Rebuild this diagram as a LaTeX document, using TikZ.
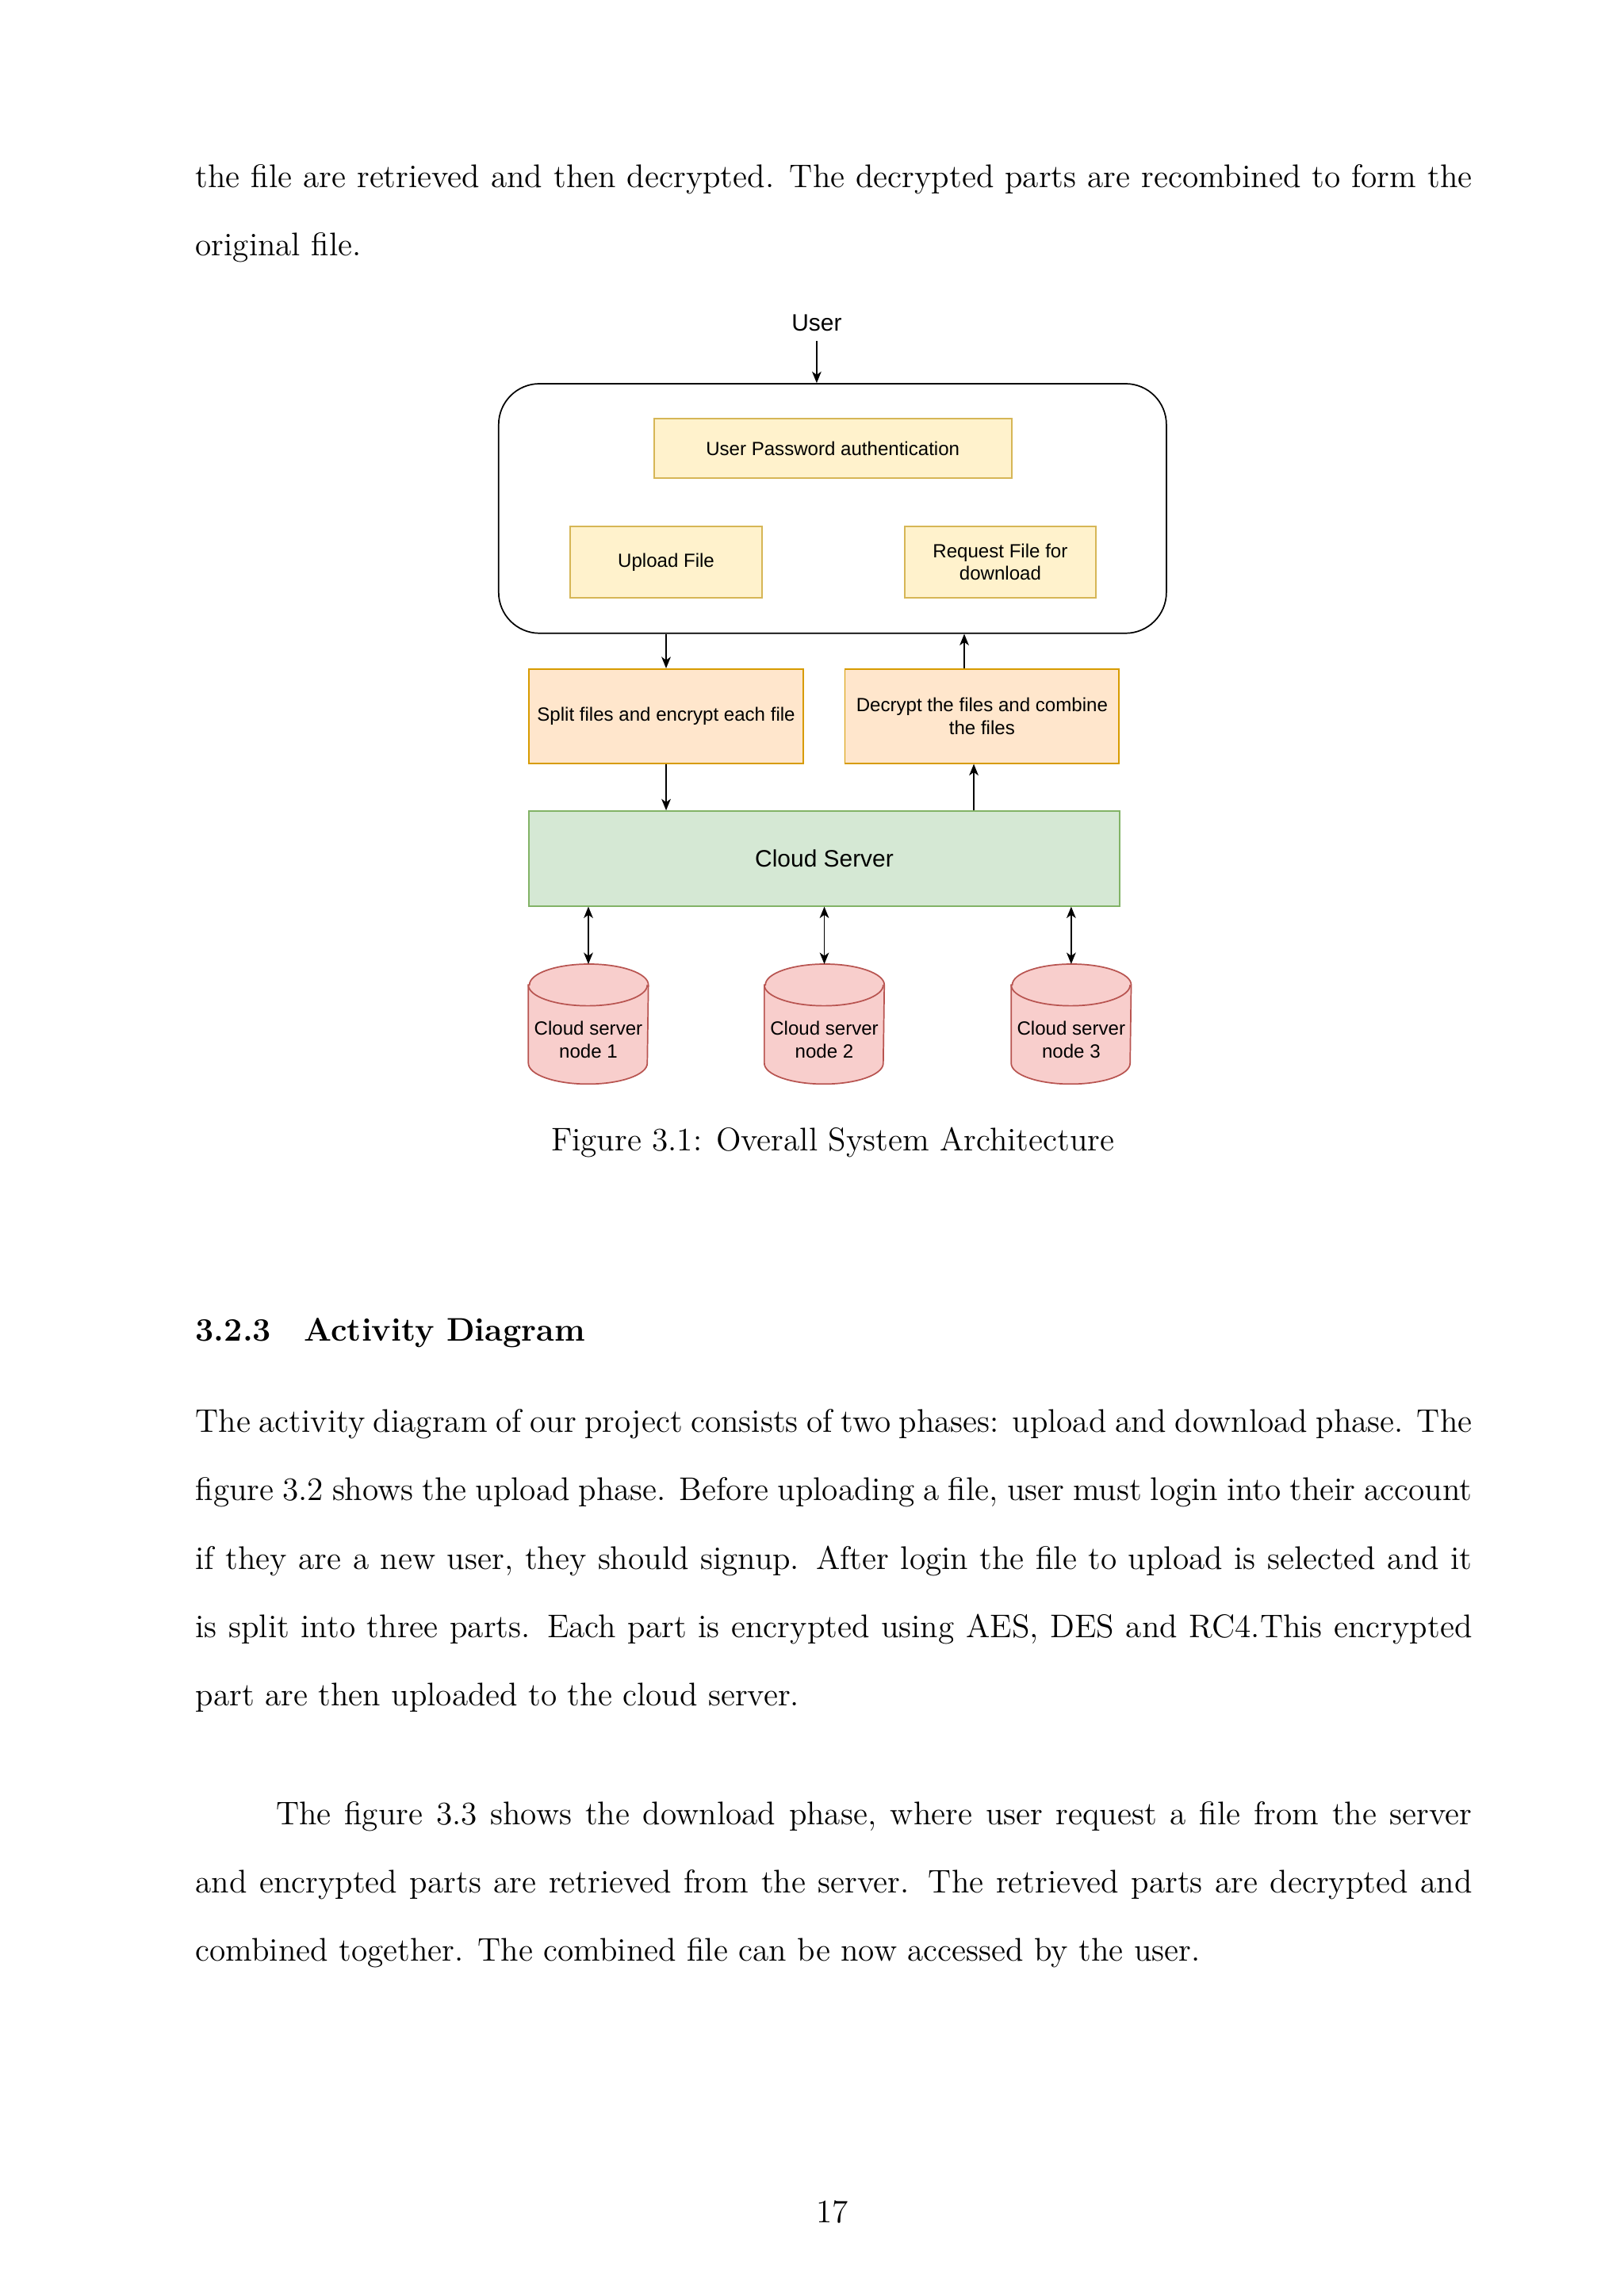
\documentclass[tikz,border=0pt]{standalone}
\usepackage{fontspec}
\usepackage{tikz}
\usetikzlibrary{arrows.meta}
\newfontfamily\diagramfont{Liberation Sans}
\definecolor{yellowfill}{HTML}{FFF2CC}
\definecolor{yellowline}{HTML}{D6B656}
\definecolor{orangefill}{HTML}{FFE6CC}
\definecolor{orangeline}{HTML}{D79B00}
\definecolor{greenfill}{HTML}{D5E8D4}
\definecolor{greenline}{HTML}{82B366}
\definecolor{redfill}{HTML}{F8CECC}
\definecolor{redline}{HTML}{B85450}
\newcommand{\fullline}[1]{\makebox[468pt][s]{#1}}
\tikzstyle{body text}=[anchor=base west, inner sep=0pt, font=\fontsize{12}{25.1}\selectfont]
\tikzstyle{centred text}=[anchor=base, inner sep=0pt, font=\fontsize{12}{25.1}\selectfont]
\tikzstyle{small label}=[font=\diagramfont\fontsize{7}{8.3}\selectfont, align=center, inner sep=1pt]
\tikzstyle{big label}=[font=\diagramfont\fontsize{8.7}{10.4}\selectfont, align=center, inner sep=2pt]
\tikzstyle{yellow box}=[small label, rectangle, draw=yellowline, fill=yellowfill, line width=0.5pt]
\tikzstyle{orange box}=[small label, rectangle, draw=orangeline, fill=orangefill, line width=0.5pt, minimum width=100.5pt, minimum height=34.6pt]
\tikzstyle{green box}=[big label, rectangle, draw=greenline, fill=greenfill, line width=0.5pt, minimum width=216.5pt, minimum height=34.8pt]
\tikzstyle{outer frame}=[draw, rectangle, rounded corners=15pt, line width=0.5pt, minimum width=244.8pt, minimum height=91.5pt]
\tikzstyle{cylinder spot}=[rectangle, inner sep=0pt, minimum width=43.6pt, minimum height=43.6pt]
\tikzstyle{cylinder body}=[draw=redline, fill=redfill, line width=0.5pt]
\tikzstyle{link}=[draw, line width=0.45pt, -{Stealth[length=4.2pt,width=3.4pt,inset=1.2pt]}]
\tikzstyle{both link}=[draw, line width=0.45pt, {Stealth[length=4.2pt,width=3.4pt,inset=1.2pt]}-{Stealth[length=4.2pt,width=3.4pt,inset=1.2pt]}]
\begin{document}
\begin{tikzpicture}[x=1pt, y=-1pt]
		\useasboundingbox (0,0) rectangle (595.28,841.89);
		\fill[white] (0,0) rectangle (595.28,841.89);
		
		% Text above the figure
		\node[body text] (top1) at (71.5,68.9) {\fullline{the file are retrieved and then decrypted. The decrypted parts are recombined to form the}};
		\node[body text] (top2) at (71.5,93.9) {original file.};
		
		% The user and the client frame
		\node[big label] (user) at (299.4,118.4) {User};
		\node[outer frame] (frame) at (305.2,186.45) {};
		\foreach \pos/\boxw/\boxh/\label/\name in {
			{(305.3,164.5)/131.1pt/21.8pt/auth/User Password authentication},
			{(244.2,206.1)/70.3pt/26.2pt/upload/Upload File},
			{(366.7,206.1)/70pt/26.2pt/request/Request File for\\download}}
		\node[yellow box, minimum width=\boxw, minimum height=\boxh] (\label) at \pos {\name};
		
		% Split / decrypt steps and the server
		\foreach \pos/\label/\name in {
			{(244.2,262.6)/split/Split files and encrypt each file},
			{(360.0,262.6)/decrypt/Decrypt the files and combine\\the files}}
		\node[orange box] (\label) at \pos {\name};
		\node[green box] (cloud) at (302.2,314.8) {Cloud Server};
		
		% Storage nodes
		\foreach \x/\n in {215.7/1, 302.2/2, 392.7/3}{
			\node[cylinder spot] (cyl\n) at (\x,375.5) {};
			\path[cylinder body] ([yshift=-7.65pt]cyl\n.north west) -- ([yshift=7.65pt]cyl\n.south west)
				arc[start angle=180, end angle=360, x radius=21.8pt, y radius=7.65pt]
				-- ([yshift=-7.65pt]cyl\n.north east)
				arc[start angle=0, end angle=180, x radius=21.8pt, y radius=7.65pt] -- cycle;
			\draw[redline, line width=0.5pt] ([yshift=-7.65pt]cyl\n.north west)
				arc[start angle=180, end angle=360, x radius=21.8pt, y radius=7.65pt];
			\node[small label] (cyltext\n) at ([yshift=-5.8pt]cyl\n.center) {Cloud server\\node \n};
			\path[both link] (cloud.south -| cyl\n.north) -- (cyl\n.north);
		}
		
		% Connect the steps
		\path[link] ([yshift=-1.5pt]user.south) -- (user.south |- frame.north);
		\path[link] (split.north |- frame.south) -- (split.north);
		\path[link] ([xshift=-6.5pt]decrypt.north) -- ([xshift=-6.5pt]decrypt.north |- frame.south);
		\path[link] (split.south) -- (split.south |- cloud.north);
		\path[link] ([xshift=-3pt]decrypt.south |- cloud.north) -- ([xshift=-3pt]decrypt.south);
		
		% Caption
		\node[centred text] (caption) at (305.3,422.0) {Figure 3.1: Overall System Architecture};
		
		% Section and paragraphs
		\node[body text, font=\fontsize{12}{25.1}\selectfont\bfseries] (heading) at (71.5,491.8) {3.2.3\quad Activity Diagram};
		\foreach \txt [count=\i from 0] in {
			{The activity diagram of our project consists of two phases: upload and download phase. The},
			{figure 3.2 shows the upload phase. Before uploading a file, user must login into their account},
			{if they are a new user, they should signup. After login the file to upload is selected and it},
			{is split into three parts. Each part is encrypted using AES, DES and RC4.This encrypted}}
		\node[body text] (para\i) at (71.5,{525.2+25.08*\i}) {\fullline{\txt}};
		\node[body text] (para4) at (71.5,625.5) {part are then uploaded to the cloud server.};
		
		\node[body text] (down0) at (71.5,669.1) {\fullline{\hspace*{29.5pt}The figure 3.3 shows the download phase, where user request a file from the server}};
		\node[body text] (down1) at (71.5,694.1) {\fullline{and encrypted parts are retrieved from the server. The retrieved parts are decrypted and}};
		\node[body text] (down2) at (71.5,719.1) {combined together. The combined file can be now accessed by the user.};
		
		% Page number
		\node[centred text] (pagenum) at (305.2,815.0) {17};
\end{tikzpicture}
\end{document}
